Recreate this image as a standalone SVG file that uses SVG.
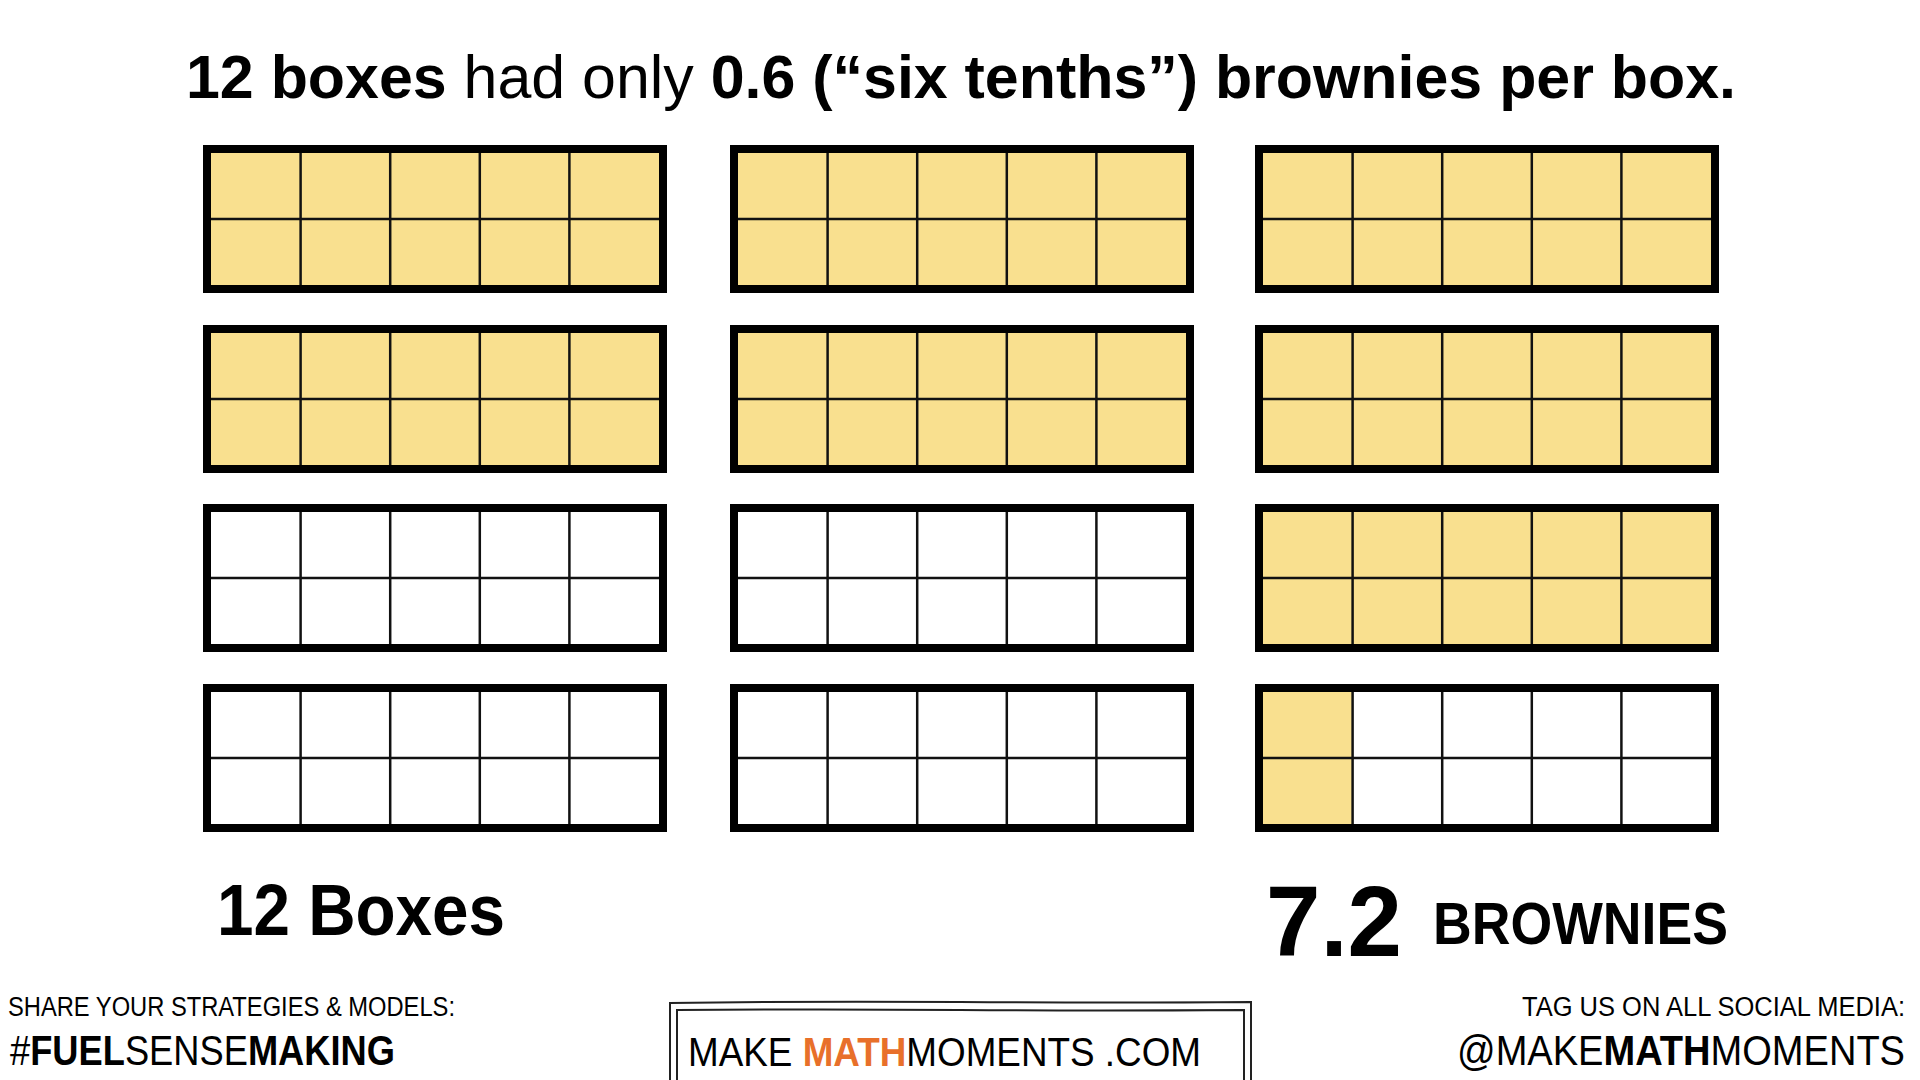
<svg xmlns="http://www.w3.org/2000/svg" xmlns:xlink="http://www.w3.org/1999/xlink" width="1920" height="1080" viewBox="0 0 1920 1080">
<style>
  .t { font-family: "Liberation Sans", Arial, sans-serif; fill: #000; }
  .b { font-weight: 700; }
  .n { font-weight: 400; }
  .fill { fill: #F9E08F; }
  .empty { fill: #FFFFFF; }
  .frame { fill: none; stroke: #000; stroke-width: 8; }
  .cell { stroke: #111; stroke-width: 2.5; fill: none; }
  .sketch { fill: none; stroke: #222; stroke-width: 2; }
  .orange { fill: #E8702A; }
</style>
<defs>
  <g id="grid">
    <line class="cell" x1="97.6" y1="8" x2="97.6" y2="140"/>
    <line class="cell" x1="187.2" y1="8" x2="187.2" y2="140"/>
    <line class="cell" x1="276.8" y1="8" x2="276.8" y2="140"/>
    <line class="cell" x1="366.4" y1="8" x2="366.4" y2="140"/>
    <line class="cell" x1="8" y1="74" x2="456" y2="74"/>
    <rect class="frame" x="4" y="4" width="456" height="140"/>
  </g>
  <rect id="full" class="fill" x="4" y="4" width="456" height="140"/>
  <rect id="empty" class="empty" x="4" y="4" width="456" height="140"/>
</defs>

<rect width="1920" height="1080" fill="#FFFFFF"/>

<g id="title">
  <text class="t b" x="186" y="98" font-size="62" textLength="1550" lengthAdjust="spacingAndGlyphs">12 boxes<tspan class="n"> had only </tspan>0.6 (“six tenths”) brownies per box.</text>
</g>

<g id="box-r1-c1" transform="translate(203,145)"><use href="#full"/><use href="#grid"/></g>
<g id="box-r1-c2" transform="translate(730,145)"><use href="#full"/><use href="#grid"/></g>
<g id="box-r1-c3" transform="translate(1255,145)"><use href="#full"/><use href="#grid"/></g>

<g id="box-r2-c1" transform="translate(203,325)"><use href="#full"/><use href="#grid"/></g>
<g id="box-r2-c2" transform="translate(730,325)"><use href="#full"/><use href="#grid"/></g>
<g id="box-r2-c3" transform="translate(1255,325)"><use href="#full"/><use href="#grid"/></g>

<g id="box-r3-c1" transform="translate(203,504)"><use href="#empty"/><use href="#grid"/></g>
<g id="box-r3-c2" transform="translate(730,504)"><use href="#empty"/><use href="#grid"/></g>
<g id="box-r3-c3" transform="translate(1255,504)"><use href="#full"/><use href="#grid"/></g>

<g id="box-r4-c1" transform="translate(203,684)"><use href="#empty"/><use href="#grid"/></g>
<g id="box-r4-c2" transform="translate(730,684)"><use href="#empty"/><use href="#grid"/></g>
<g id="box-r4-c3" transform="translate(1255,684)"><use href="#empty"/><rect class="fill" x="8" y="8" width="89.6" height="132"/><use href="#grid"/></g>

<g id="connectors"></g>

<g id="label-boxes">
  <text class="t b" x="217" y="935" font-size="72" textLength="288" lengthAdjust="spacingAndGlyphs">12 Boxes</text>
</g>
<g id="label-brownies">
  <text class="t b" x="1266" y="956" font-size="100" textLength="136" lengthAdjust="spacingAndGlyphs">7.2</text>
  <text class="t b" x="1433" y="944" font-size="60" textLength="295" lengthAdjust="spacingAndGlyphs">BROWNIES</text>
</g>

<g id="footer-left">
  <text class="t n" x="8" y="1016" font-size="27" textLength="447" lengthAdjust="spacingAndGlyphs">SHARE YOUR STRATEGIES &amp; MODELS:</text>
  <text class="t" x="10" y="1065" font-size="42" textLength="385" lengthAdjust="spacingAndGlyphs"><tspan class="n">#</tspan><tspan class="b">FUEL</tspan><tspan class="n">SENSE</tspan><tspan class="b">MAKING</tspan></text>
</g>

<g id="footer-center">
  <path class="sketch" d="M670,1080 L670,1003 Q800,1001 960,1002 T1251,1002 L1251,1080"/>
  <path class="sketch" d="M677,1080 L677,1010 Q820,1009 960,1010 T1244,1010 L1244,1080"/>
  <text class="t" x="688" y="1066" font-size="40" textLength="513" lengthAdjust="spacingAndGlyphs"><tspan class="n">MAKE </tspan><tspan class="b orange">MATH</tspan><tspan class="n">MOMENTS .COM</tspan></text>
</g>

<g id="footer-right">
  <text class="t n" x="1905" y="1016" font-size="27" text-anchor="end" textLength="383" lengthAdjust="spacingAndGlyphs">TAG US ON ALL SOCIAL MEDIA:</text>
  <text class="t" x="1905" y="1065" font-size="42" text-anchor="end" textLength="448" lengthAdjust="spacingAndGlyphs"><tspan class="n">@MAKE</tspan><tspan class="b">MATH</tspan><tspan class="n">MOMENTS</tspan></text>
</g>
</svg>
